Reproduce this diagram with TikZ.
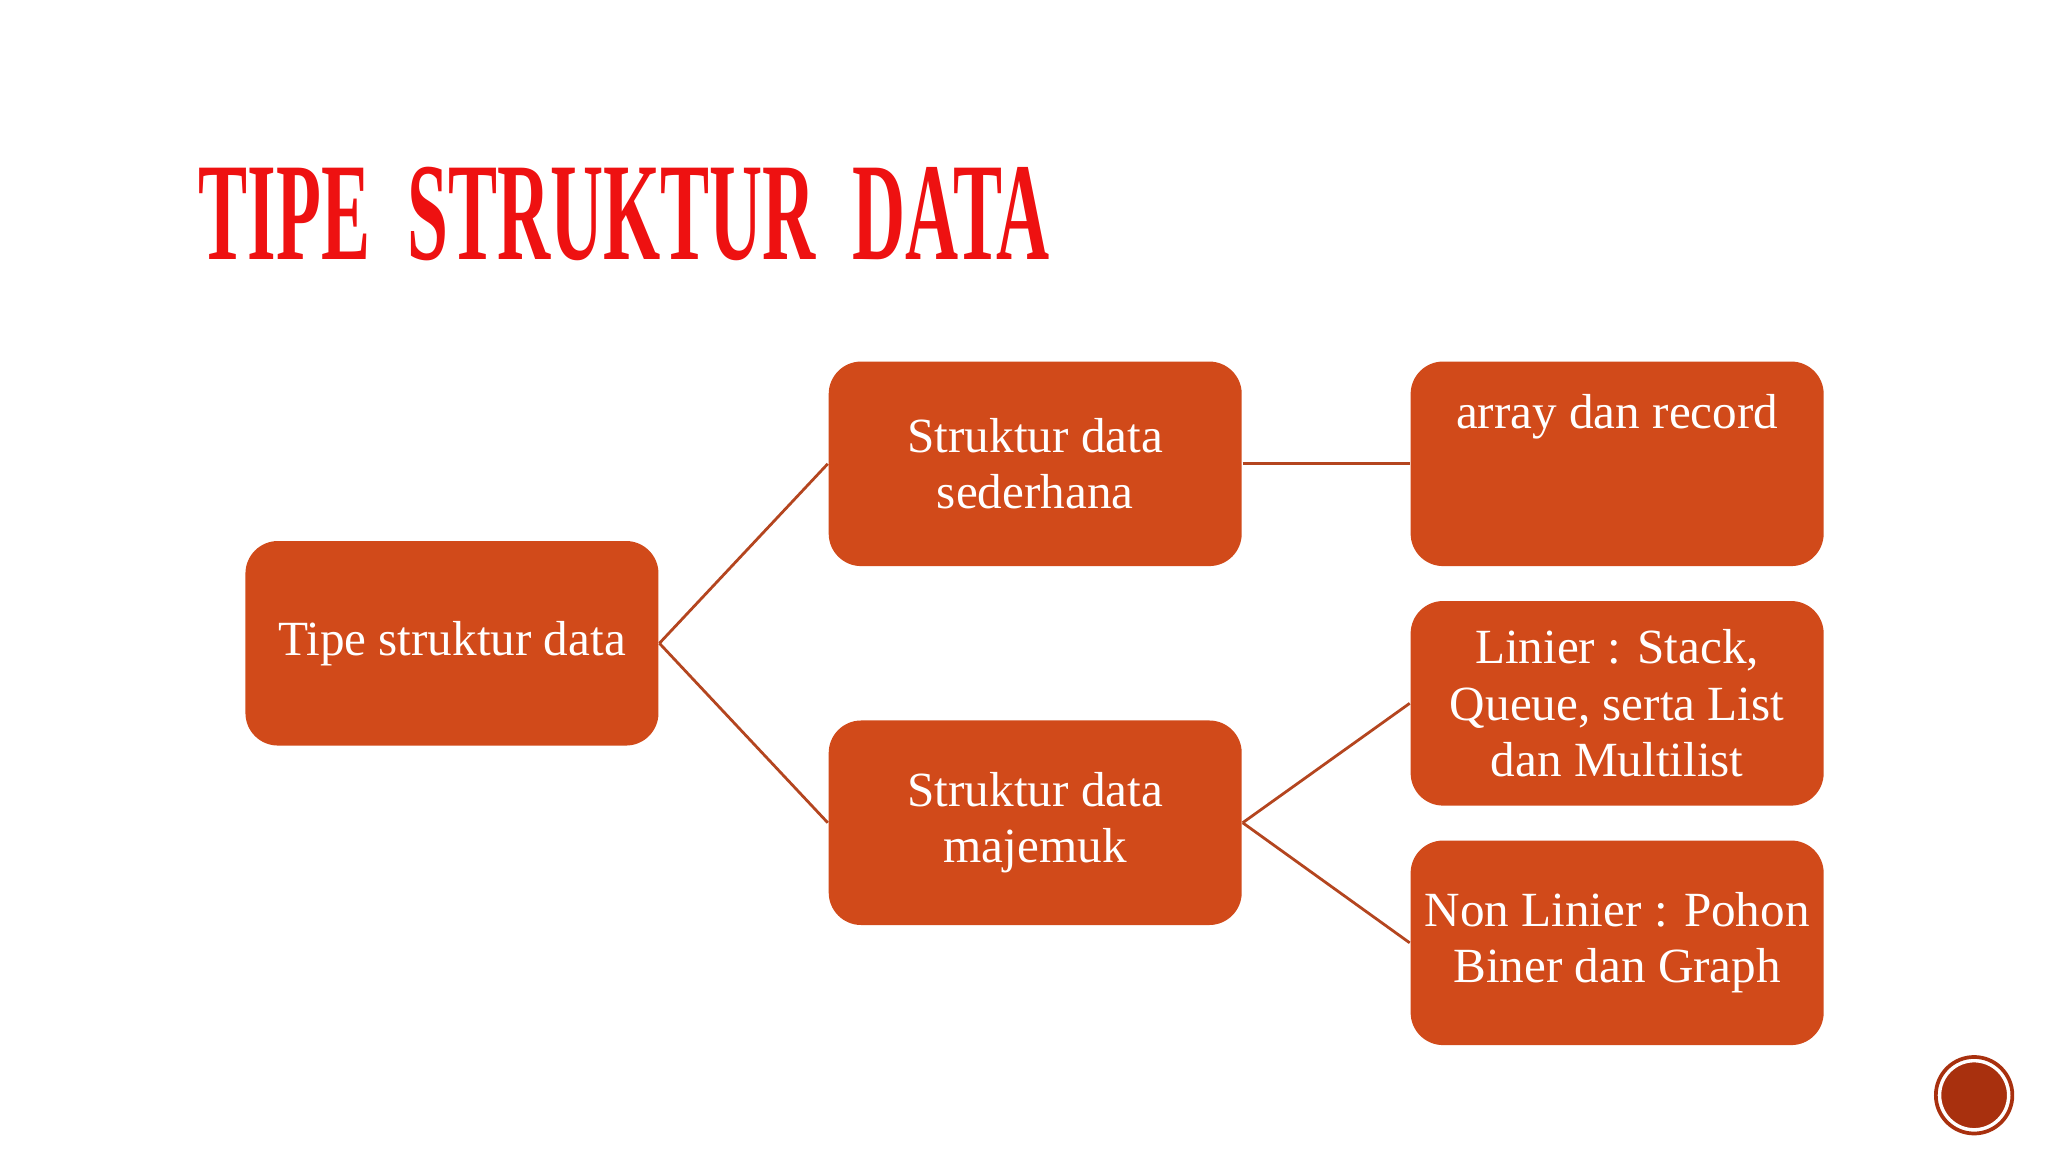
\documentclass[tikz,border=0pt]{standalone}
\usepackage{fontspec}
\setmainfont{Liberation Serif}
\usepackage{graphicx}
\definecolor{boxc}{HTML}{D14A1A}
\definecolor{linec}{HTML}{B4451F}
\definecolor{titlec}{HTML}{EE1111}
\definecolor{dotc}{HTML}{A8300E}
\tikzset{
 box/.style={fill=boxc, rounded corners=7pt, minimum width=3.13cm, minimum height=1.55cm, text=white, align=center, font=\fontsize{10.6}{12.2}\selectfont, inner sep=0.5pt},
 conn/.style={draw=linec, line width=0.6pt}
}
\begin{document}
\begin{tikzpicture}
\useasboundingbox (0,0) rectangle (15.52,-8.73);
\fill[white] (0,0) rectangle (15.52,-8.73);
\node[anchor=west, text=titlec, inner sep=0] (title) at (1.50,-1.625) {\resizebox{6.45cm}{0.70cm}{\bfseries TIPE\ \ STRUKTUR\ \ DATA}};
\node[box] (root) at (3.425,-4.875) {Tipe struktur data};
\node[box] (sed) at (7.845,-3.515) {Struktur data\\sederhana};
\node[box] (maj) at (7.845,-6.235) {Struktur data\\majemuk};
\node[box, text height=2.6ex, text depth=0.95cm] (arr) at (12.255,-3.515) {array dan record};
\node[box] (lin) at (12.255,-5.33) {Linier : Stack,\\Queue, serta List\\dan Multilist};
\node[box] (non) at (12.255,-7.145) {Non Linier : Pohon\\Biner dan Graph};
\draw[conn] (root.east) -- (sed.west);
\draw[conn] (root.east) -- (maj.west);
\draw[conn] (sed.east) -- (arr.west);
\draw[conn] (maj.east) -- (lin.west);
\draw[conn] (maj.east) -- (non.west);
\node[circle, fill=dotc, draw=white, line width=1.2pt, minimum size=0.54cm, inner sep=0] (dotin) at (14.96,-8.30) {};
\draw[dotc, line width=0.8pt] (dotin) circle (0.29cm);
\end{tikzpicture}
\end{document}
